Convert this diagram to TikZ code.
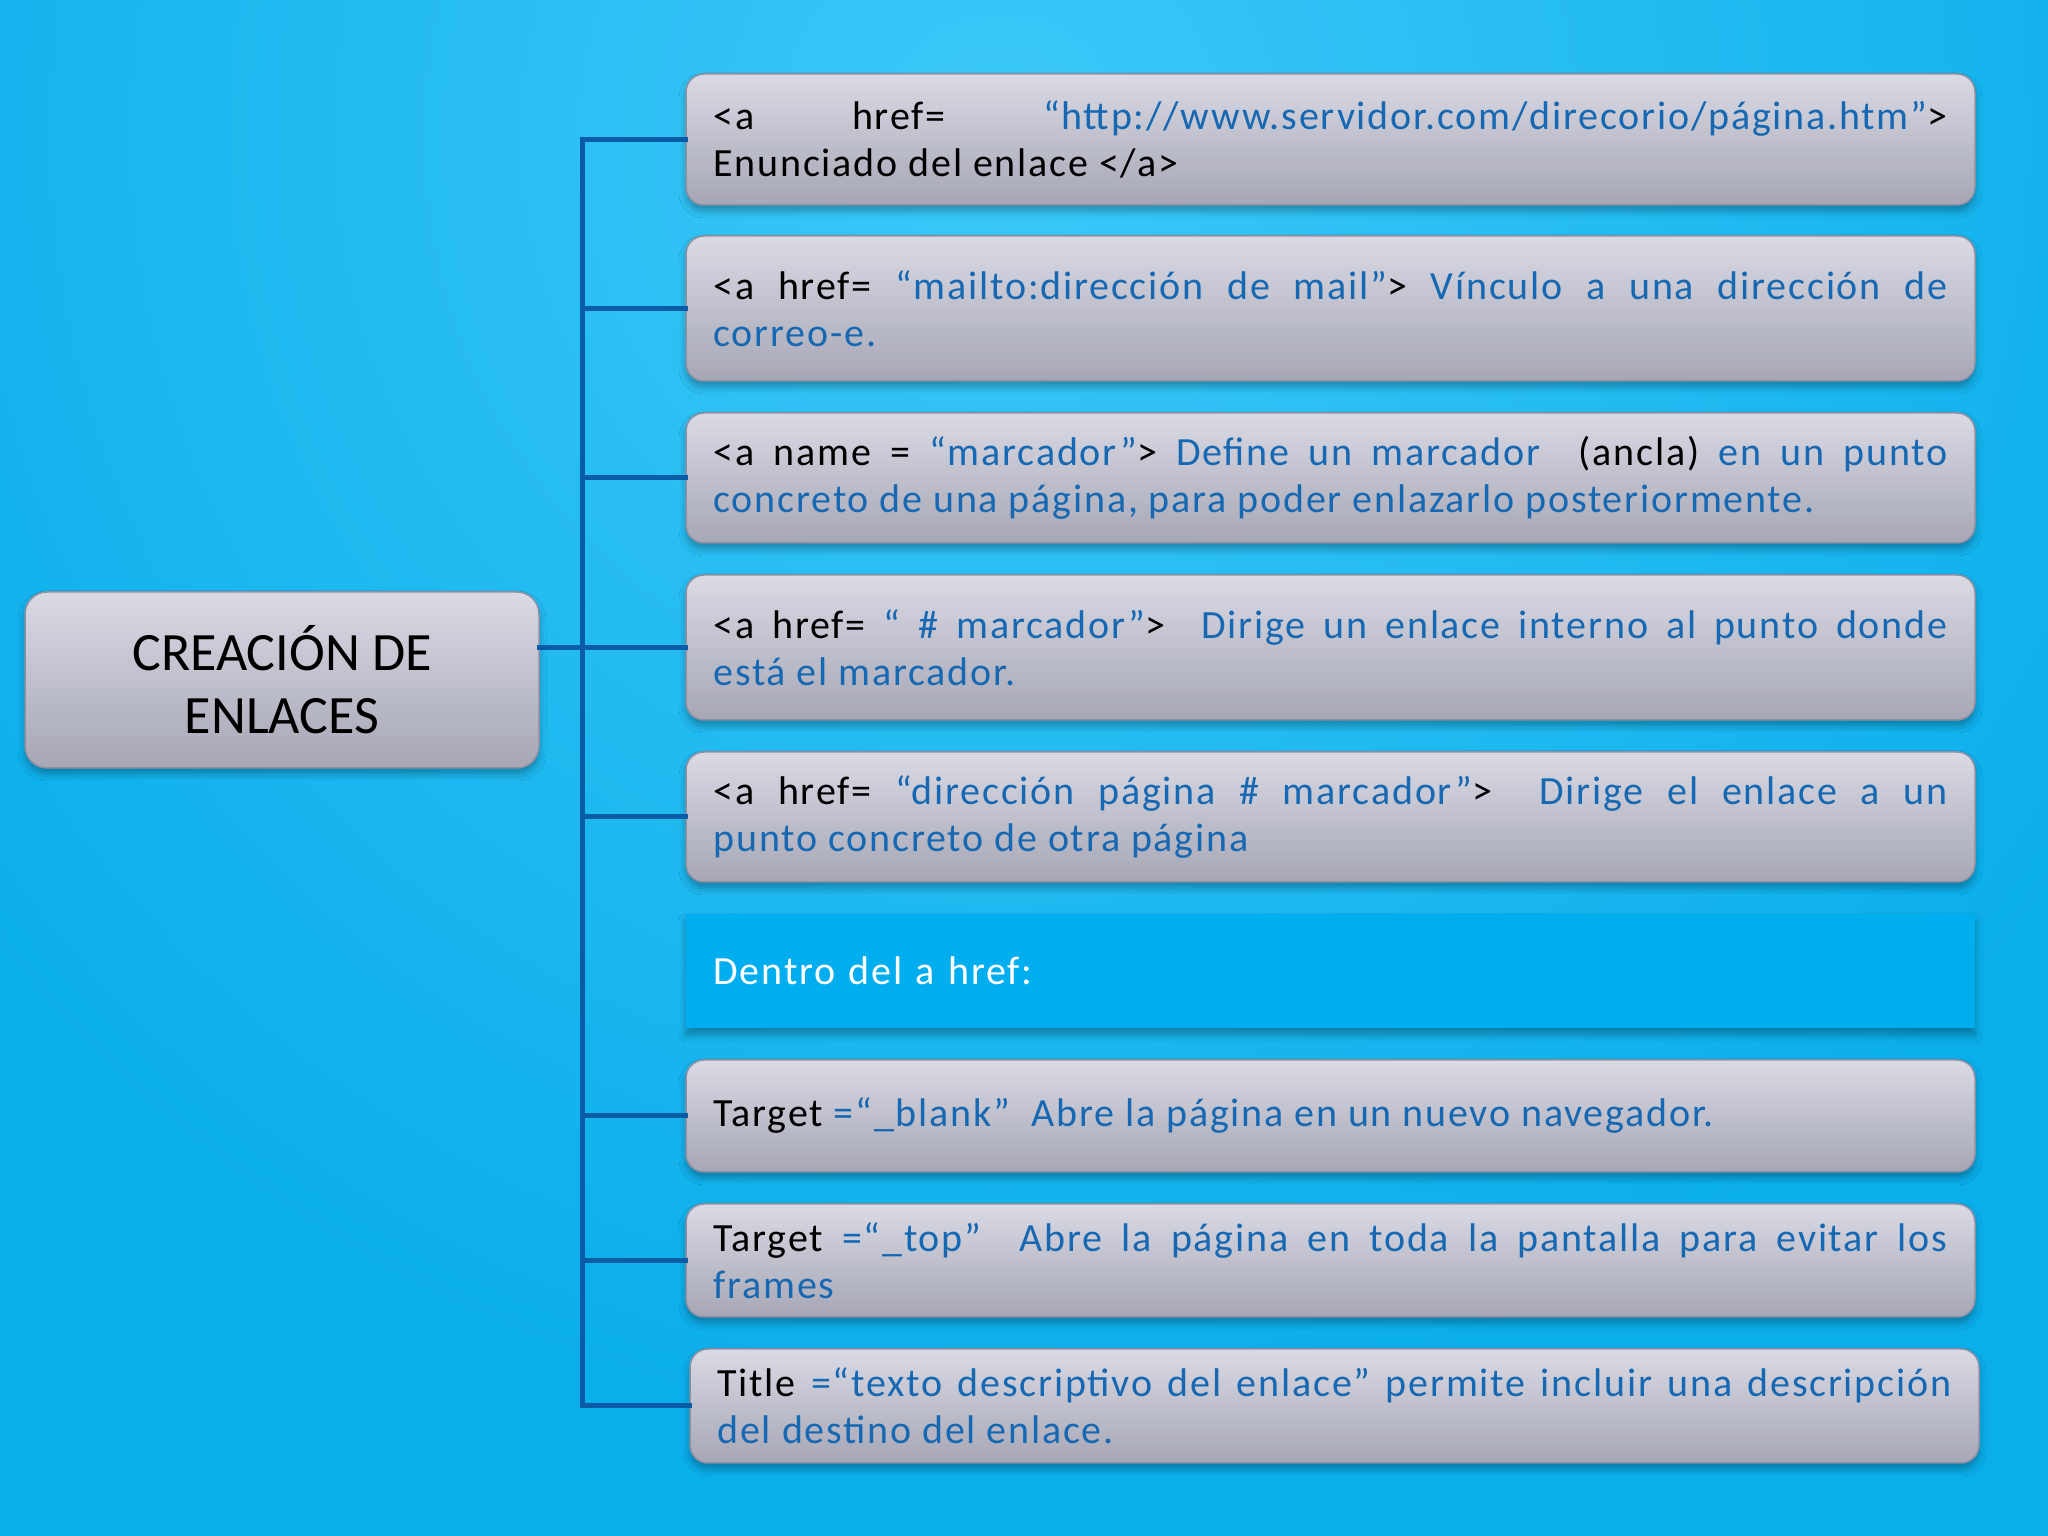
\documentclass[tikz,border=0pt]{standalone}
\usepackage{fontspec}
\setmainfont{Carlito}
\newfontfamily\bodyfont[LetterSpace=4.5]{Carlito}
\usetikzlibrary{shadows.blur}
\definecolor{bgin}{HTML}{3CC8F8}
\definecolor{bgout}{HTML}{0AAEEB}
\definecolor{boxtop}{HTML}{D9DAE4}
\definecolor{boxbot}{HTML}{A6A6B5}
\definecolor{boxline}{HTML}{8E8FA2}
\definecolor{tblue}{HTML}{1668B2}
\definecolor{conncol}{HTML}{0B5CA6}
\definecolor{dentro}{HTML}{00AEEF}
\hyphenpenalty=10000
\exhyphenpenalty=10000
\tolerance=10000
\newcommand{\bl}[1]{\textcolor{tblue}{#1}}
\tikzset{
  itembox/.style={rounded corners=18, draw=boxline, line width=1.5,
    top color=boxtop, bottom color=boxbot,
    minimum width=1289, text width=1234, inner xsep=27.5, inner ysep=0,
    align=justify, font=\bodyfont\fontsize{40}{47}\selectfont,
    blur shadow={shadow xshift=0pt, shadow yshift=-6pt, shadow opacity=30, shadow blur radius=7pt}},
  mainbox/.style={rounded corners=22, draw=boxline, line width=1.5,
    top color=boxtop, bottom color=boxbot,
    minimum width=514, minimum height=176, align=center,
    font=\fontsize{54}{63}\selectfont,
    blur shadow={shadow xshift=0pt, shadow yshift=-6pt, shadow opacity=30, shadow blur radius=7pt}},
  dentrobox/.style={fill=dentro, minimum width=1289, text width=1234, inner xsep=27.5,
    minimum height=114, align=left, text=white, font=\bodyfont\fontsize{40}{47}\selectfont,
    blur shadow={shadow xshift=0pt, shadow yshift=-7pt, shadow opacity=30, shadow blur radius=7pt}},
  conn/.style={draw=conncol, line width=5, line cap=rect}
}
\begin{document}
\begin{tikzpicture}[x=1pt,y=1pt]
\useasboundingbox (0,0) rectangle (2048,1536);
\begin{scope}
\clip (0,0) rectangle (2048,1536);
\fill[bgout] (0,0) rectangle (2048,1536);
\shade[inner color=bgin, outer color=bgout] (1000,1400) circle (1300);
\end{scope}

\node[itembox, minimum height=131] (b1) at (1330.5,1396.5)
  {<a href= \bl{“http://www.servidor.com/direcorio/página.htm”}>\linebreak Enunciado del enlace </a>};
\node[itembox, minimum height=145] (b2) at (1330.5,1227.5)
  {<a href= \bl{“mailto:dirección de mail”}> \bl{Vínculo a una dirección de\linebreak correo-e.}};
\node[itembox, minimum height=130] (b3) at (1330.5,1058)
  {<a name = \bl{“marcador”}> \bl{Define un marcador}\ \ (ancla) \bl{en un punto\linebreak concreto de una página, para poder enlazarlo posteriormente.}};
\node[itembox, minimum height=145] (b4) at (1330.5,888.5)
  {<a href= \bl{“ \# marcador”}>\ \ \bl{Dirige un enlace interno al punto donde\linebreak está el marcador.}};
\node[itembox, minimum height=130] (b5) at (1330.5,719)
  {<a href= \bl{“dirección página \# marcador”}>\ \ \bl{Dirige el enlace a un\linebreak punto concreto de otra página}};
\node[dentrobox] (b6) at (1330.5,565) {Dentro del a href:};
\node[itembox, minimum height=112] (b7) at (1330.5,420)
  {Target \bl{=“\_blank”\ \ Abre la página en un nuevo navegador.}};
\node[itembox, minimum height=113] (b8) at (1330.5,275.5)
  {Target \bl{=“\_top”\ \ Abre la página en toda la pantalla para evitar los\linebreak frames}};
\node[itembox, minimum height=114] (b9) at (1334.5,130)
  {Title \bl{=“texto descriptivo del enlace” permite incluir una descripción\linebreak del destino del enlace.}};

\node[mainbox] (m) at (282,856) {CREACIÓN DE\\ENLACES};

\coordinate (tt) at (582,0);
\draw[conn] (tt |- b1.west) -- (tt |- b9.west);
\foreach \b in {b1,b2,b3,b4,b5,b7,b8,b9}
  \draw[conn] (tt |- \b.west) -- (\b.west);
\draw[conn] (m.east |- b4.west) -- (b4.west);
\end{tikzpicture}
\end{document}
